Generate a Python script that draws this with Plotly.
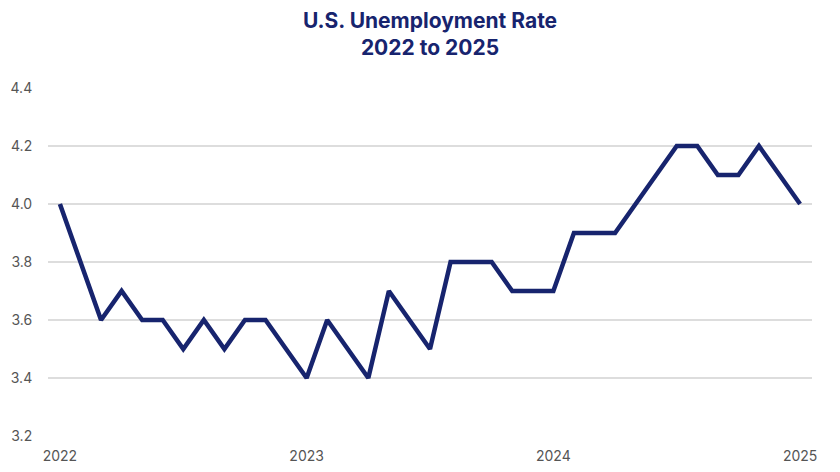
import plotly.graph_objects as go

months = ["Jan 2022","Feb 2022","Mar 2022","Apr 2022","May 2022","Jun 2022","Jul 2022","Aug 2022","Sep 2022","Oct 2022","Nov 2022","Dec 2022",
          "Jan 2023","Feb 2023","Mar 2023","Apr 2023","May 2023","Jun 2023","Jul 2023","Aug 2023","Sep 2023","Oct 2023","Nov 2023","Dec 2023",
          "Jan 2024","Feb 2024","Mar 2024","Apr 2024","May 2024","Jun 2024","Jul 2024","Aug 2024","Sep 2024","Oct 2024","Nov 2024","Dec 2024",
          "Jan 2025"]
rate = [4.0, 3.8, 3.6, 3.7, 3.6, 3.6, 3.5, 3.6, 3.5, 3.6, 3.6, 3.5,
        3.4, 3.6, 3.5, 3.4, 3.7, 3.6, 3.5, 3.8, 3.8, 3.8, 3.7, 3.7,
        3.7, 3.9, 3.9, 3.9, 4.0, 4.1, 4.2, 4.2, 4.1, 4.1, 4.2, 4.1,
        4.0]
year_ticks = [0, 12, 24, 36]
year_labels = ["2022", "2023", "2024", "2025"]
y_ticks = [3.2, 3.4, 3.6, 3.8, 4.0, 4.2, 4.4]

x_idx = list(range(len(months)))

fig = go.Figure()
fig.add_trace(go.Scatter(
    x=x_idx, y=rate, mode="lines", text=months,
    line=dict(color="#17246e", width=4.5),
    hovertemplate="%{text}: %{y:.1f}%<extra></extra>",
))

fig.update_layout(
    width=840, height=472,
    paper_bgcolor="white", plot_bgcolor="white",
    margin=dict(l=48, r=28, t=88, b=36),
    showlegend=False,
    title=dict(
        text="U.S. Unemployment Rate<br>2022 to 2025",
        x=0.5, xanchor="center", xref="paper", yref="container", y=0.941, yanchor="middle",
        font=dict(family="Inter, Open Sans, sans-serif", size=21, color="#17246e", weight="bold"),
    ),
    font=dict(family="Inter, Open Sans, sans-serif", size=14, color="#555555"),
)
fig.update_xaxes(
    range=[-0.58, 36.58], tickvals=year_ticks, ticktext=year_labels,
    showgrid=False, zeroline=False, showline=False, automargin=False,
    ticks="outside", ticklen=7, tickcolor="rgba(0,0,0,0)",
    tickfont=dict(size=14, color="#555555"),
)
fig.update_yaxes(
    range=[3.2, 4.4], tickvals=y_ticks, ticktext=[f"{v:.1f}" for v in y_ticks],
    showgrid=True, gridcolor="#dddddd", gridwidth=1.5, zeroline=False, showline=False, automargin=False,
    ticks="outside", ticklen=12, tickcolor="rgba(0,0,0,0)",
    tickfont=dict(size=14, color="#555555"),
)

fig.write_html("out.html")
